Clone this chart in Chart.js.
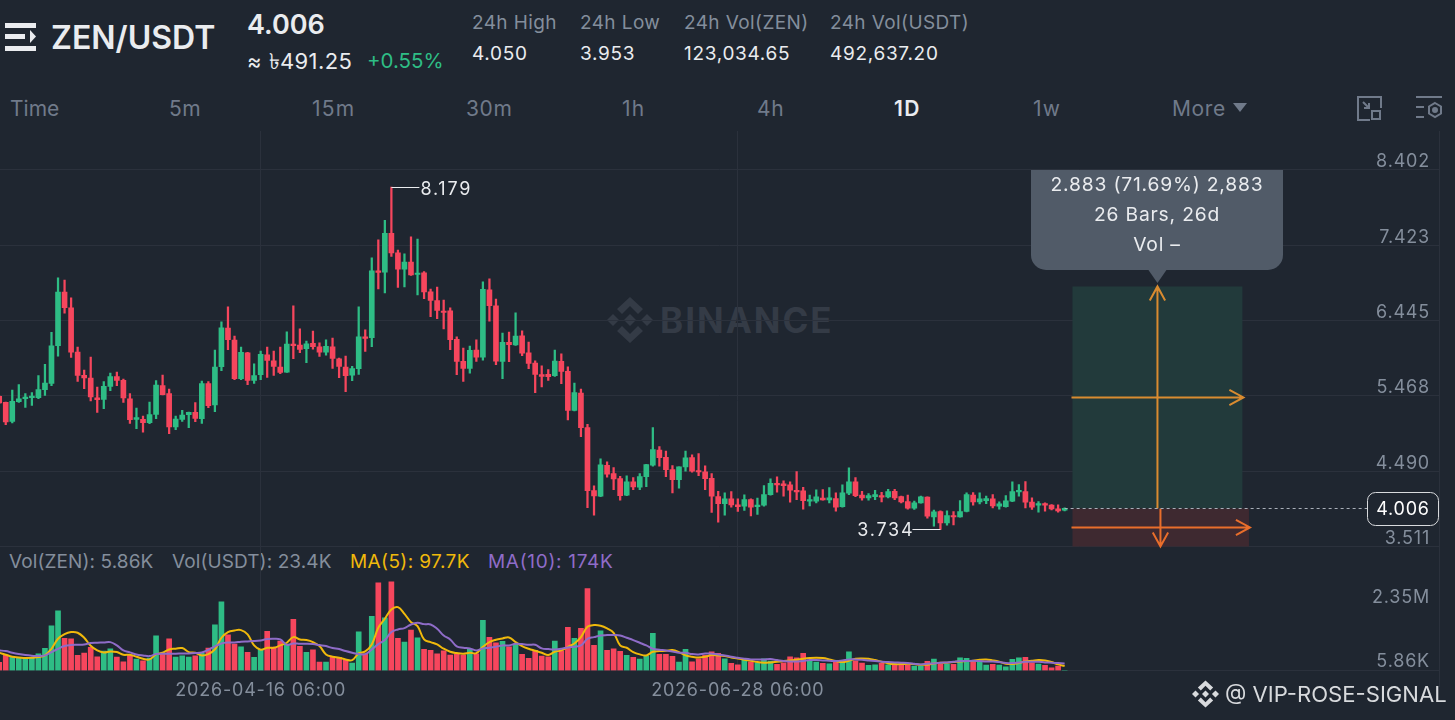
<!DOCTYPE html>
<html>
<head>
<meta charset="utf-8">
<title>ZEN/USDT</title>
<script src="https://cdn.jsdelivr.net/npm/chart.js@4"></script>
<style>
  html, body { margin: 0; padding: 0; background: #1f2630; overflow: hidden; }
  body { width: 1455px; height: 720px; position: relative; font-family: Inter, "Noto Sans", sans-serif; color: #eaecef; }
  .t { position: absolute; white-space: nowrap; line-height: 1; transform: translateY(-50%); }
  .grey { color: #848e9c; }
  .lab { font-size: 19px; letter-spacing: .4px; color: #848e9c; }
  .val { font-size: 19px; letter-spacing: .7px; }
  .leg { font-size: 19px; letter-spacing: .1px; }
  .tab { font-size: 21px; letter-spacing: .6px; color: #707a8a; }
  svg { position: absolute; }
  #chart { position: absolute; left: 0; top: 0; }
</style>
</head>
<body>
<svg style="left:5px;top:22px" width="32" height="30" viewBox="0 0 32 30" fill="#eaecef">
  <rect x="0" y="1" width="31" height="5"/><rect x="0" y="12" width="20" height="5"/>
  <polygon points="25,8 31,14.5 25,21"/><rect x="0" y="24" width="31" height="5"/>
</svg>
<div class="t" style="left:51px;top:38px;font-size:32px;font-weight:600">ZEN/USDT</div>
<div class="t" style="left:247px;top:24px;font-size:27px;font-weight:600">4.006</div>
<div class="t" style="left:247px;top:61px;font-size:22px;letter-spacing:.4px">≈ ৳491.25</div>
<div class="t" style="left:367px;top:61px;font-size:20.5px;color:#2ebd85">+0.55%</div>
<div class="t lab" style="left:472px;top:22px">24h High</div>
<div class="t val" style="left:472px;top:53px">4.050</div>
<div class="t lab" style="left:580px;top:22px">24h Low</div>
<div class="t val" style="left:580px;top:53px">3.953</div>
<div class="t lab" style="left:684px;top:22px">24h Vol(ZEN)</div>
<div class="t val" style="left:684px;top:53px">123,034.65</div>
<div class="t lab" style="left:830px;top:22px">24h Vol(USDT)</div>
<div class="t val" style="left:830px;top:53px">492,637.20</div>

<div class="t tab" style="left:10px;top:108px;letter-spacing:0">Time</div>
<div class="t tab" style="left:169px;top:108px">5m</div>
<div class="t tab" style="left:312px;top:108px;letter-spacing:1.2px">15m</div>
<div class="t tab" style="left:466px;top:108px">30m</div>
<div class="t tab" style="left:622px;top:108px;letter-spacing:1.2px">1h</div>
<div class="t tab" style="left:757px;top:108px">4h</div>
<div class="t tab" style="left:894px;top:108px;color:#eaecef;font-weight:600;letter-spacing:1.4px">1D</div>
<div class="t tab" style="left:1033px;top:108px;letter-spacing:1.2px">1w</div>
<div class="t tab" style="left:1172px;top:108px">More</div>
<svg style="left:1233px;top:103px" width="14" height="9"><polygon points="0,0 14,0 7,9" fill="#707a8a"/></svg>
<svg style="left:1356px;top:95px" width="27" height="27" fill="none" stroke="#707a8a" stroke-width="2">
  <path d="M13 2H2v23h12M13 2h12v11"/><rect x="16" y="16" width="8" height="8"/><path d="M7 7l6 6M13 8v5H8"/>
</svg>
<svg style="left:1415px;top:95px" width="28" height="27" fill="none" stroke="#707a8a" stroke-width="2">
  <path d="M1 2h26M1 12h8M1 22h8"/><polygon points="20,8 26,11.5 26,18.5 20,22 14,18.5 14,11.5"/><circle cx="20" cy="15" r="2" fill="#707a8a"/>
</svg>

<svg style="left:607px;top:297px" width="46" height="46" viewBox="0 0 46 46" fill="#343b46">
  <polygon points="23,0 36,12 31,17 23,9 15,17 10,12"/><polygon points="23,46 36,34 31,29 23,37 15,29 10,34"/>
  <polygon points="23,17 29,23 23,29 17,23"/><polygon points="6,17 12,23 6,29 0,23"/><polygon points="40,17 46,23 40,29 34,23"/>
</svg>
<div class="t" style="left:660px;top:320px;font-size:35px;font-weight:700;color:#343b46;letter-spacing:2px">BINANCE</div>

<div class="t leg grey" style="left:9px;top:561px">Vol(ZEN): 5.86K</div>
<div class="t leg grey" style="left:172px;top:561px">Vol(USDT): 23.4K</div>
<div class="t leg" style="left:350px;top:561px;color:#f0b90b;letter-spacing:.4px">MA(5): 97.7K</div>
<div class="t leg" style="left:488px;top:561px;color:#8f6cc8;letter-spacing:.7px">MA(10): 174K</div>

<canvas id="chart" width="1455" height="720"></canvas>

<svg style="left:1192px;top:680px" width="27" height="28" viewBox="0 0 46 46" fill="#d8dadd">
  <polygon points="23,0 36,12 31,17 23,9 15,17 10,12"/><polygon points="23,46 36,34 31,29 23,37 15,29 10,34"/>
  <polygon points="23,17 29,23 23,29 17,23"/><polygon points="6,17 12,23 6,29 0,23"/><polygon points="40,17 46,23 40,29 34,23"/>
</svg>
<div class="t" style="left:1225px;top:694px;font-size:22.1px;color:#d8dadd">@ VIP-ROSE-SIGNAL</div>

<script>
// candles
const opens = [5.462,5.384,5.137,5.392,5.431,5.444,5.444,5.548,5.630,6.119,
  6.815,6.612,6.037,5.734,5.700,5.444,5.423,5.591,5.717,5.669,
  5.431,5.163,5.163,5.120,5.228,5.600,5.496,5.064,5.163,5.224,
  5.254,5.172,5.626,5.349,5.846,6.348,6.192,5.691,6.028,5.669,
  5.743,6.002,5.924,5.842,5.777,6.141,6.128,6.080,6.149,6.106,
  6.037,6.106,5.950,5.842,5.738,5.821,6.236,6.223,7.092,7.075,
  7.580,7.325,7.113,7.204,7.044,7.066,6.819,6.707,6.569,6.573,
  6.201,5.916,5.825,6.063,5.972,6.845,6.638,5.916,6.162,6.128,
  6.249,6.028,5.894,5.743,5.747,5.730,5.916,5.786,5.280,5.505,
  5.055,4.238,4.164,4.567,4.458,4.394,4.177,4.350,4.281,4.420,
  4.567,4.765,4.670,4.510,4.381,4.545,4.666,4.497,4.480,4.398,
  4.160,4.069,4.130,4.052,4.035,4.121,4.030,4.048,4.186,4.333,
  4.324,4.312,4.242,4.234,4.100,4.100,4.139,4.117,4.134,4.030,
  4.203,4.350,4.178,4.143,4.160,4.173,4.156,4.229,4.160,4.095,
  4.009,4.078,4.152,3.896,3.966,3.819,3.914,3.896,3.966,4.178,
  4.091,4.108,4.130,4.035,4.030,4.100,4.221,4.225,4.087,4.048,
  4.069,4.048,4.000,3.983];
const highs = [5.470,5.388,5.544,5.613,5.496,5.509,5.730,5.877,6.292,7.001,
  6.971,6.742,6.102,5.803,5.972,5.583,5.652,5.764,5.777,5.686,
  5.496,5.310,5.207,5.388,5.665,5.738,5.557,5.207,5.280,5.258,
  5.380,5.661,5.652,6.063,6.430,6.625,6.244,6.102,6.032,5.885,
  6.050,6.102,6.050,6.102,6.301,6.638,6.339,6.179,6.309,6.158,
  6.197,6.218,5.959,5.985,5.851,6.625,6.326,7.260,7.494,7.749,
  8.179,7.360,7.312,7.533,7.503,7.083,6.854,6.880,6.711,6.612,
  6.236,6.089,6.115,6.197,6.949,6.988,6.724,6.283,6.296,6.547,
  6.314,6.166,5.924,5.859,5.808,6.063,6.015,5.846,5.635,5.557,
  5.098,4.298,4.649,4.610,4.536,4.424,4.428,4.407,4.458,4.580,
  5.055,4.809,4.752,4.562,4.545,4.752,4.701,4.718,4.558,4.459,
  4.229,4.208,4.225,4.130,4.182,4.130,4.139,4.303,4.389,4.415,
  4.363,4.350,4.484,4.281,4.178,4.247,4.251,4.277,4.208,4.312,
  4.532,4.407,4.229,4.199,4.242,4.216,4.255,4.255,4.165,4.178,
  4.100,4.165,4.156,3.983,3.974,3.974,3.966,4.108,4.208,4.212,
  4.208,4.165,4.186,4.091,4.173,4.350,4.316,4.355,4.143,4.095,
  4.078,4.057,4.052,4.013];
const lows = [5.366,5.094,5.116,5.384,5.319,5.345,5.431,5.475,5.600,5.985,
  6.543,5.968,5.656,5.561,5.401,5.254,5.302,5.535,5.600,5.384,
  5.111,5.042,4.995,5.107,5.172,5.479,4.977,5.029,5.137,5.055,
  5.133,5.111,5.315,5.263,5.795,6.067,5.678,5.678,5.613,5.630,
  5.678,5.708,5.734,5.756,5.773,5.950,6.028,5.898,6.076,5.981,
  5.998,5.825,5.704,5.522,5.665,5.747,6.045,6.106,6.858,6.806,
  7.278,6.876,6.884,7.031,6.780,6.729,6.495,6.469,6.339,6.067,
  5.743,5.656,5.764,5.916,5.933,6.439,5.872,5.691,5.911,6.123,
  5.989,5.821,5.509,5.583,5.669,5.721,5.626,5.155,5.271,4.938,
  4.017,3.918,4.160,4.411,4.251,4.113,4.173,4.251,4.251,4.290,
  4.554,4.554,4.420,4.208,4.268,4.489,4.476,4.433,4.251,3.953,
  3.827,3.918,4.022,3.966,3.979,3.909,3.927,4.035,4.178,4.216,
  4.165,4.087,4.121,3.996,4.039,4.078,4.113,4.078,3.970,4.022,
  4.186,4.160,4.113,4.113,4.121,4.091,4.143,4.121,4.078,3.996,
  3.992,4.074,3.879,3.775,3.734,3.788,3.793,3.892,3.961,4.048,
  4.065,4.069,4.013,3.996,4.022,4.095,4.165,4.013,3.992,3.957,
  3.970,3.987,3.957,3.974];
const closes = [5.375,5.129,5.397,5.431,5.453,5.466,5.548,5.635,6.119,6.815,
  6.612,6.037,5.734,5.700,5.453,5.418,5.591,5.717,5.669,5.440,
  5.159,5.185,5.120,5.224,5.609,5.483,5.064,5.168,5.219,5.254,
  5.176,5.626,5.341,5.842,6.352,6.197,5.691,6.032,5.669,5.730,
  6.006,5.929,5.851,5.773,6.141,6.119,6.071,6.145,6.106,6.037,
  6.110,5.955,5.851,5.730,5.821,6.236,6.214,7.092,7.070,7.580,
  7.325,7.113,7.204,7.040,7.062,6.819,6.707,6.577,6.551,6.197,
  5.916,5.825,6.058,5.972,6.850,6.638,5.920,6.162,6.132,6.244,
  6.024,5.890,5.747,5.721,5.717,5.920,5.786,5.280,5.509,5.055,
  4.238,4.169,4.571,4.450,4.389,4.173,4.350,4.286,4.420,4.575,
  4.770,4.666,4.510,4.381,4.545,4.662,4.489,4.480,4.394,4.164,
  4.069,4.130,4.052,4.030,4.121,4.022,4.048,4.186,4.333,4.312,
  4.303,4.242,4.221,4.108,4.121,4.156,4.117,4.143,4.022,4.208,
  4.350,4.173,4.143,4.173,4.186,4.152,4.225,4.143,4.091,4.009,
  4.078,4.156,3.905,3.961,3.819,3.914,3.896,3.966,4.186,4.091,
  4.130,4.134,4.039,4.065,4.104,4.225,4.242,4.087,4.022,4.069,
  4.048,4.000,3.974,4.006];
// volume in millions, and the two moving average lines as drawn
const volumes = [.294,.563,.477,.477,.453,.465,.612,.808,1.640,2.191,
  1.175,1.163,.551,.636,.845,.502,.710,.796,.490,.318,
  .563,.416,.355,.453,1.273,.636,1.163,.490,.539,.490,
  .539,.624,.820,1.677,2.521,1.310,.967,.869,.661,.477,
  .771,1.432,.857,1.077,.967,1.873,.881,.661,.759,.306,
  .306,.477,.477,.379,.269,1.420,.612,1.983,3.219,1.934,
  3.256,1.175,1.040,1.481,1.200,.771,.734,.612,.722,.563,
  .600,.563,.771,.612,1.836,1.212,1.016,1.065,.869,.955,
  .588,.441,.734,.526,.502,1.077,.722,1.579,1.175,1.542,
  3.011,.918,1.457,.734,.796,.698,.551,.477,.416,.539,
  1.359,.588,.588,.514,.306,.771,.318,.428,.551,.685,
  .624,.428,.257,.208,.379,.318,.282,.428,.343,.220,
  .282,.502,.465,.624,.379,.306,.257,.245,.318,.343,
  .685,.355,.269,.184,.208,.257,.208,.220,.220,.208,
  .159,.159,.330,.416,.220,.233,.220,.465,.441,.330,
  .306,.196,.220,.196,.135,.404,.465,.477,.282,.233,
  .184,.098,.159,.00586];
const ma5 = [.649,.575,.502,.477,.453,.465,.490,.551,.796,1.163,
  1.334,1.408,1.383,1.200,.906,.734,.661,.698,.673,.575,
  .575,.502,.428,.404,.588,.649,.771,.796,.820,.673,
  .649,.551,.600,.771,1.200,1.408,1.469,1.481,1.322,.918,
  .759,.832,.832,.918,1.016,1.224,1.138,1.114,1.040,.894,
  .588,.502,.465,.404,.379,.624,.698,.955,1.567,1.897,
  2.240,2.326,2.081,1.775,1.628,1.138,1.040,.955,.796,.685,
  .636,.612,.649,.636,.869,1.040,1.126,1.175,1.212,1.040,
  .894,.796,.722,.649,.563,.685,.734,.869,.991,1.224,
  1.603,1.665,1.640,1.542,1.383,.918,.832,.673,.588,.551,
  .685,.710,.722,.747,.673,.551,.502,.477,.502,.563,
  .551,.526,.477,.441,.392,.355,.306,.282,.294,.318,
  .343,.367,.392,.428,.453,.465,.453,.404,.343,.306,
  .355,.428,.441,.428,.379,.318,.257,.233,.233,.245,
  .233,.208,.208,.257,.282,.282,.306,.330,.343,.355,
  .392,.404,.367,.318,.245,.233,.269,.330,.355,.379,
  .367,.306,.220,.159];
const ma10 = [.734,.710,.649,.600,.563,.539,.526,.551,.673,.796,
  .894,.930,.942,.955,1.004,1.016,1.028,1.040,.918,.734,
  .661,.588,.551,.526,.600,.612,.612,.612,.624,.624,
  .636,.661,.759,.881,.991,1.028,1.028,1.053,1.065,1.077,
  1.102,1.151,1.163,1.138,.942,.991,.979,.979,.967,.930,
  .894,.820,.783,.710,.649,.600,.600,.771,.967,1.114,
  1.408,1.506,1.554,1.689,1.750,1.701,1.689,1.530,1.285,1.138,
  .881,.832,.808,.734,.808,.832,.869,.918,.918,.979,
  .967,.942,.942,.808,.783,.771,.796,.845,.869,.918,
  1.163,1.224,1.285,1.297,1.297,1.285,1.200,1.114,1.016,.918,
  .796,.759,.734,.698,.649,.649,.600,.588,.624,.612,
  .588,.551,.502,.465,.428,.404,.404,.404,.416,.379,
  .343,.330,.330,.343,.379,.379,.367,.355,.343,.367,
  .404,.404,.392,.367,.343,.318,.306,.294,.282,.269,
  .245,.220,.245,.257,.282,.294,.318,.343,.343,.355,
  .343,.330,.330,.306,.269,.269,.294,.318,.318,.318,
  .294,.282,.269,.257];

const priceTicks = [8.402, 7.423, 6.445, 5.468, 4.490, 3.511];
const volTicks = [0.00586, 2.35];
const volTickLabels = ["5.86K", "2.35M"];
const dateTickBars = [40, 113];
const dateTickLabels = ["2026-04-16 06:00", "2026-06-28 06:00"];
const lastPrice = 4.006;
const highBar = 60, highLabel = "8.179";
const lowBar = 144, lowLabel = "3.734";
// measuring tool
const measureFrom = 164.2, measureTo = 190.2, measureRedTo = 191.2;
const measureTop = 6.889, measureBottom = 3.511;
const measureLines = ["2.883 (71.69%) 2,883", "26 Bars, 26d", "Vol –"];

const UP = "#2ebd85", DOWN = "#f6465d";
const GRID = "#2b313c";
const FONT = "Inter, 'Noto Sans', sans-serif";
const barIndex = opens.map((_, i) => i);
const candleColor = opens.map((o, i) => closes[i] >= o ? UP : DOWN);

function arrow(ctx, x1, y1, x2, y2, color) {
  const a = Math.atan2(y2 - y1, x2 - x1);
  ctx.strokeStyle = color;
  ctx.lineWidth = 2;
  ctx.beginPath();
  ctx.moveTo(x1, y1);
  ctx.lineTo(x2, y2);
  ctx.moveTo(x2 - 16 * Math.cos(a - 0.5), y2 - 16 * Math.sin(a - 0.5));
  ctx.lineTo(x2, y2);
  ctx.lineTo(x2 - 16 * Math.cos(a + 0.5), y2 - 16 * Math.sin(a + 0.5));
  ctx.stroke();
}

const drawings = {
  id: "drawings",
  beforeDraw(chart) {
    // the reference font runs wider than Inter
    chart.ctx.letterSpacing = "0.8px";
  },
  afterDatasetsDraw(chart) {
    const { ctx, scales } = chart;
    const x = scales.x, y = scales.y;
    ctx.save();

    // right spine runs past the bottom of the pane
    ctx.strokeStyle = GRID;
    ctx.lineWidth = 1;
    ctx.beginPath();
    ctx.moveTo(1439.5, 131);
    ctx.lineTo(1439.5, 687);
    ctx.stroke();

    // high and low markers
    ctx.font = "18px " + FONT;
    ctx.letterSpacing = "1.8px";
    ctx.fillStyle = "#eaecef";
    ctx.strokeStyle = "#eaecef";
    ctx.textBaseline = "middle";
    const hx = x.getPixelForValue(highBar), hy = Math.round(y.getPixelForValue(highs[highBar])) + 0.5;
    ctx.beginPath(); ctx.moveTo(hx, hy); ctx.lineTo(hx + 28, hy); ctx.stroke();
    ctx.textAlign = "left";
    ctx.fillText(highLabel, hx + 29, hy + 2);
    const lx = x.getPixelForValue(lowBar), ly = Math.round(y.getPixelForValue(lows[lowBar])) + 0.5;
    ctx.beginPath(); ctx.moveTo(lx, ly); ctx.lineTo(lx - 28, ly); ctx.stroke();
    ctx.textAlign = "right";
    ctx.fillText(lowLabel, lx - 26, ly + 1);
    ctx.letterSpacing = "0.8px";

    // measure boxes
    const mx1 = x.getPixelForValue(measureFrom), mx2 = x.getPixelForValue(measureTo), mx3 = x.getPixelForValue(measureRedTo);
    const top = y.getPixelForValue(measureTop), mid = y.getPixelForValue(lastPrice), bot = y.getPixelForValue(measureBottom);
    ctx.fillStyle = "#223a3b";
    ctx.fillRect(mx1, top, mx2 - mx1, mid - top);
    ctx.fillStyle = "#3e2930";
    ctx.fillRect(mx1, mid, mx3 - mx1, bot - mid);
    const cx = (mx1 + mx2) / 2;
    arrow(ctx, cx, mid, cx, top, "#d98b30");
    arrow(ctx, mx1 - 1, (top + mid) / 2, mx2 + 1, (top + mid) / 2, "#d98b30");
    arrow(ctx, cx + 3, mid, cx + 3, bot, "#e96e2b");
    arrow(ctx, mx1 - 1, (mid + bot) / 2, mx3 + 1, (mid + bot) / 2, "#e96e2b");

    // measure tooltip
    ctx.fillStyle = "#515b68";
    ctx.beginPath();
    ctx.roundRect(1031, 170, 252, 100, [0, 0, 15, 15]);
    ctx.fill();
    ctx.beginPath();
    ctx.moveTo(cx - 9, 270); ctx.lineTo(cx, 283); ctx.lineTo(cx + 9, 270);
    ctx.fill();
    ctx.fillStyle = "#eaecef";
    ctx.font = "19.3px " + FONT;
    ctx.textAlign = "center";
    measureLines.forEach((s, i) => ctx.fillText(s, 1157, 185 + i * 30));

    // last price line and box
    const py = Math.round(mid) + 0.5;
    ctx.strokeStyle = "#a9afb8";
    ctx.lineWidth = 1;
    ctx.setLineDash([3, 3]);
    ctx.beginPath();
    ctx.moveTo(x.getPixelForValue(barIndex.length - 1), py);
    ctx.lineTo(1367, py);
    ctx.stroke();
    ctx.setLineDash([]);
    ctx.fillStyle = "#1f2630";
    ctx.strokeStyle = "#d8dadd";
    ctx.beginPath();
    ctx.roundRect(1367.5, 492.5, 71, 33, 8);
    ctx.fill();
    ctx.stroke();
    ctx.fillStyle = "#ffffff";
    ctx.font = "18px " + FONT;
    ctx.fillText(lastPrice.toFixed(3), 1403, py + 1);
    ctx.restore();
  }
};

new Chart(document.getElementById("chart"), {
  type: "bar",
  data: {
    datasets: [
      { label: "wick", yAxisID: "y", grouped: false, barThickness: 1.6, order: 4,
        backgroundColor: candleColor,
        data: barIndex.map(i => ({ x: i, y: [lows[i], highs[i]] })) },
      { label: "body", yAxisID: "y", grouped: false, barThickness: 5, order: 3,
        backgroundColor: candleColor,
        data: barIndex.map(i => ({ x: i, y: [opens[i], closes[i]] })) },
      { label: "Vol", yAxisID: "vol", grouped: false, barThickness: 5, order: 2,
        backgroundColor: candleColor,
        data: barIndex.map(i => ({ x: i, y: volumes[i] })) },
      { label: "MA(5)", type: "line", yAxisID: "vol", order: 1, borderColor: "#f0b90b", borderWidth: 2,
        pointRadius: 0, tension: 0.4, data: barIndex.map(i => ({ x: i, y: ma5[i] })) },
      { label: "MA(10)", type: "line", yAxisID: "vol", order: 0, borderColor: "#8f6cc8", borderWidth: 2,
        pointRadius: 0, tension: 0.4, data: barIndex.map(i => ({ x: i, y: ma10[i] })) }
    ]
  },
  plugins: [drawings],
  options: {
    responsive: false,
    devicePixelRatio: 1,
    animation: false,
    layout: { padding: { top: 131, right: 15.5, bottom: 10, left: 0 } },
    plugins: { legend: { display: false }, tooltip: { enabled: false } },
    scales: {
      x: {
        type: "linear", min: 0.1224, max: 220.35, offset: false,
        afterBuildTicks: s => { s.ticks = dateTickBars.map(v => ({ value: v })); },
        ticks: { autoSkip: false, maxRotation: 0, color: "#848e9c", font: { family: FONT, size: 18 }, padding: 9,
          callback: (v, i) => dateTickLabels[i] },
        grid: { color: GRID, drawTicks: false, offset: false },
        border: { color: GRID }
      },
      y: {
        position: "right", stack: "panes", stackWeight: 416, weight: 1,
        min: 3.511, max: 8.908,
        afterBuildTicks: s => { s.ticks = priceTicks.map(v => ({ value: v })); },
        afterFit: s => { s.width = 0; },
        ticks: { mirror: true, padding: -9.5, labelOffset: -8, color: "#848e9c", font: { family: FONT, size: 18 },
          callback: v => v.toFixed(3) },
        grid: { color: GRID, drawTicks: false },
        border: { color: GRID }
      },
      vol: {
        axis: "y", position: "right", stack: "panes", stackWeight: 124, weight: 2,
        min: 0, max: 4.553,
        afterBuildTicks: s => { s.ticks = volTicks.map(v => ({ value: v })); },
        afterFit: s => { s.width = 0; },
        ticks: { mirror: true, padding: -9.5, labelOffset: -9, color: "#848e9c", font: { family: FONT, size: 18 },
          callback: (v, i) => volTickLabels[i] },
        grid: { display: false, drawTicks: false },
        border: { color: GRID }
      }
    }
  }
});
</script>
</body>
</html>
